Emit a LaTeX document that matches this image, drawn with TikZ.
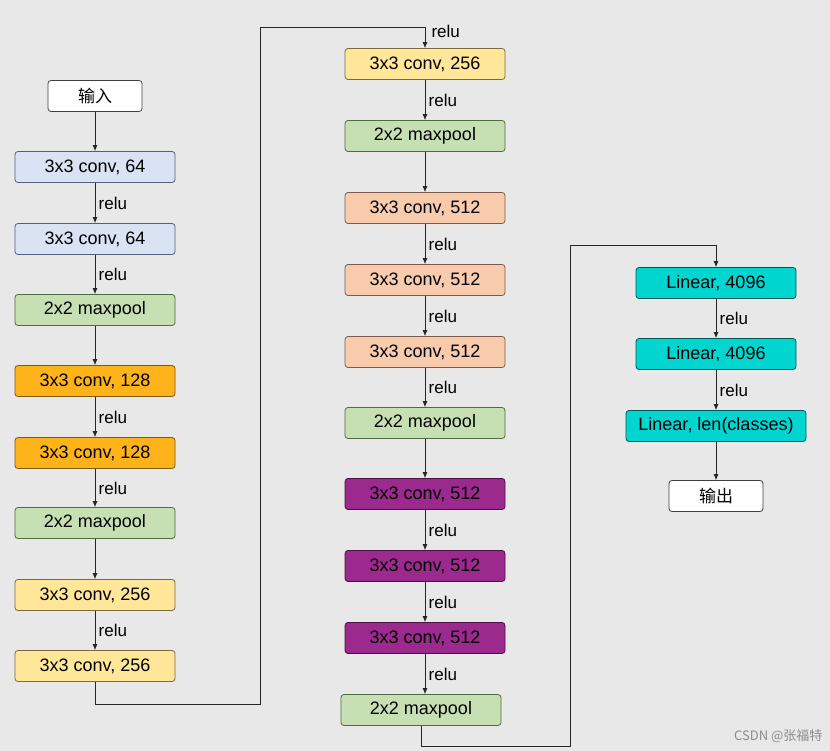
\documentclass[tikz,border=0pt]{standalone}
\usepackage{fontspec}
\setmainfont{Liberation Sans}
\newfontfamily\cjk{Noto Sans CJK SC}
\usetikzlibrary{arrows.meta}
\definecolor{bg}{HTML}{E8E8E8}
\definecolor{blu}{HTML}{DAE3F3}\definecolor{bluD}{HTML}{50607A}
\definecolor{grn}{HTML}{C6E0B4}\definecolor{grnD}{HTML}{4F6A40}
\definecolor{org}{HTML}{FFB31A}\definecolor{orgD}{HTML}{7A5A10}
\definecolor{yel}{HTML}{FFE699}\definecolor{yelD}{HTML}{7A6A40}
\definecolor{sal}{HTML}{F8CBAD}\definecolor{salD}{HTML}{7A5A4A}
\definecolor{pur}{HTML}{9C2A8E}\definecolor{purD}{HTML}{4A1040}
\definecolor{cya}{HTML}{00D5D0}\definecolor{cyaD}{HTML}{005A58}
\tikzset{
 x=1pt,y=-1pt,
 box/.style={draw=#1D,fill=#1,rounded corners=3pt,line width=0.8pt,minimum width=160pt,minimum height=31pt,font=\fontsize{18}{20}\selectfont,inner sep=0pt},
 io/.style={draw=black!75,fill=white,rounded corners=3pt,line width=0.8pt,minimum width=94pt,minimum height=31pt,font=\cjk\fontsize{17}{19}\selectfont,inner sep=0pt},
 arr/.style={-{Latex[length=6pt,width=5pt]},draw=black!85,line width=0.7pt},
 lbl/.style={font=\fontsize{17}{19}\selectfont,anchor=west}
}
\begin{document}
\begin{tikzpicture}
\fill[bg] (0,0) rectangle (830,751);
\useasboundingbox (0,0) rectangle (830,751);
% column 1
\node[io] (in) at (95,96) {输入};
\node[box=blu] (a1) at (95,167) {3x3 conv, 64};
\node[box=blu] (a2) at (95,239) {3x3 conv, 64};
\node[box=grn] (a3) at (95,310) {2x2 maxpool};
\node[box=org] (a4) at (95,381) {3x3 conv, 128};
\node[box=org] (a5) at (95,453) {3x3 conv, 128};
\node[box=grn] (a6) at (95,523) {2x2 maxpool};
\node[box=yel] (a7) at (95,595) {3x3 conv, 256};
\node[box=yel] (a8) at (95,666) {3x3 conv, 256};
% column 2
\node[box=yel] (b1) at (425,64) {3x3 conv, 256};
\node[box=grn] (b2) at (425,136) {2x2 maxpool};
\node[box=sal] (b3) at (425,208) {3x3 conv, 512};
\node[box=sal] (b4) at (425,280) {3x3 conv, 512};
\node[box=sal] (b5) at (425,352) {3x3 conv, 512};
\node[box=grn] (b6) at (425,423) {2x2 maxpool};
\node[box=pur] (b7) at (425,494) {3x3 conv, 512};
\node[box=pur] (b8) at (425,566) {3x3 conv, 512};
\node[box=pur] (b9) at (425,638) {3x3 conv, 512};
\node[box=grn] (b10) at (421,710) {2x2 maxpool};
% column 3
\node[box=cya] (c1) at (716,283) {Linear, 4096};
\node[box=cya] (c2) at (716,354) {Linear, 4096};
\node[box=cya,minimum width=180pt] (c3) at (716,426) {Linear, len(classes)};
\node[io] (out) at (716,496) {输出};
% arrows column 1
\draw[arr] (in) -- (a1);
\draw[arr] (a1) -- node[lbl]{relu} (a2);
\draw[arr] (a2) -- node[lbl]{relu} (a3);
\draw[arr] (a3) -- (a4);
\draw[arr] (a4) -- node[lbl]{relu} (a5);
\draw[arr] (a5) -- node[lbl]{relu} (a6);
\draw[arr] (a6) -- (a7);
\draw[arr] (a7) -- node[lbl]{relu} (a8);
\coordinate (k1) at (260,704);
\coordinate (k2) at (260,27);
\draw[arr] (a8.south) -- (95,704) -- (k1) -- (k2) -- (425,27) -- (b1.north);
\node[lbl] at (428,31) {relu};
% arrows column 2
\draw[arr] (b1) -- node[lbl]{relu} (b2);
\draw[arr] (b2) -- (b3);
\draw[arr] (b3) -- node[lbl]{relu} (b4);
\draw[arr] (b4) -- node[lbl]{relu} (b5);
\draw[arr] (b5) -- node[lbl]{relu} (b6);
\draw[arr] (b6) -- (b7);
\draw[arr] (b7) -- node[lbl]{relu} (b8);
\draw[arr] (b8) -- node[lbl]{relu} (b9);
\draw[arr] (b9.south) -- node[lbl]{relu} (b9.south|-b10.north);
\coordinate (m1) at (570,746);
\coordinate (m2) at (570,245);
\draw[arr] (b10.south) -- (421,746) -- (m1) -- (m2) -- (716,245) -- (c1.north);
% column 3
\draw[arr] (c1) -- node[lbl]{relu} (c2);
\draw[arr] (c2) -- node[lbl]{relu} (c3);
\draw[arr] (c3) -- (out);
\node[font=\cjk\fontsize{13}{15}\selectfont,text=black!45,anchor=east] at (826,736) {CSDN @张福特};
\end{tikzpicture}
\end{document}
